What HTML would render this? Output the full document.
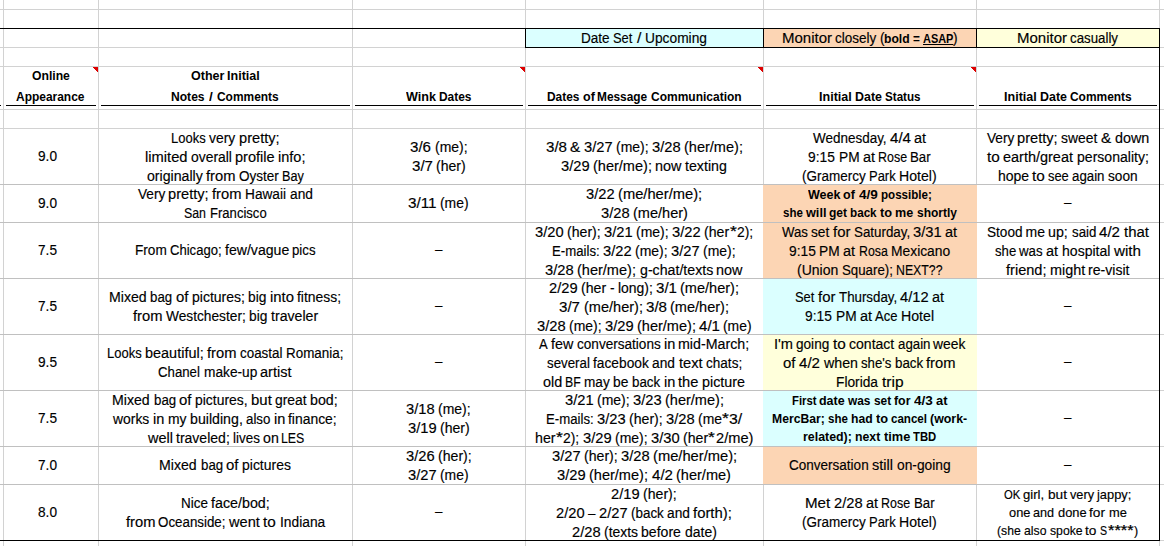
<!DOCTYPE html>
<html lang="en"><head><meta charset="utf-8"><title>Spreadsheet</title>
<style>
html,body{margin:0;padding:0;background:#fff}
body{width:1164px;height:546px;position:relative;overflow:hidden;font-family:"Liberation Sans",sans-serif;color:#000}
.g{position:absolute;background:#d2d2d2}
.k{position:absolute;background:#000}
.f{position:absolute}
.l{position:absolute;height:0;white-space:nowrap}
.l span{position:absolute;display:block;transform-origin:0 50%;white-space:pre}
.n{font-size:14.00px;height:19px;line-height:19px;-webkit-text-stroke:0.15px #000}
.b{font-size:12.00px;font-weight:700;height:18px;line-height:18px}
.s{font-size:12.10px;height:18px;line-height:18px;-webkit-text-stroke:0.15px #000}
.h{font-size:12.00px;font-weight:700;height:21px;line-height:21px}
.na{font-size:15.5px;height:19px;line-height:19px;-webkit-text-stroke:0.25px #000}
.sa{font-size:14.5px;height:18px;line-height:18px;-webkit-text-stroke:0.25px #000}
.tri{position:absolute;height:1px;background:#de0000}
</style></head><body>
<div class="g" style="left:0;top:9px;width:1164px;height:1px"></div>
<div class="g" style="left:0;top:47px;width:1164px;height:1px"></div>
<div class="g" style="left:0;top:66px;width:1164px;height:1px"></div>
<div class="g" style="left:0;top:109px;width:1164px;height:1px"></div>
<div class="g" style="left:0;top:128px;width:1164px;height:1px"></div>
<div class="g" style="left:0;top:184px;width:1164px;height:1px"></div>
<div class="g" style="left:0;top:222px;width:1164px;height:1px"></div>
<div class="g" style="left:0;top:278px;width:1164px;height:1px"></div>
<div class="g" style="left:0;top:334px;width:1164px;height:1px"></div>
<div class="g" style="left:0;top:390px;width:1164px;height:1px"></div>
<div class="g" style="left:0;top:446px;width:1164px;height:1px"></div>
<div class="g" style="left:0;top:484px;width:1164px;height:1px"></div>
<div class="g" style="left:0;top:540px;width:1164px;height:1px"></div>
<div class="g" style="left:3px;top:0;width:1px;height:546px"></div>
<div class="g" style="left:98px;top:0;width:1px;height:546px"></div>
<div class="g" style="left:352px;top:0;width:1px;height:546px"></div>
<div class="g" style="left:525px;top:0;width:1px;height:546px"></div>
<div class="g" style="left:763px;top:0;width:1px;height:546px"></div>
<div class="g" style="left:976px;top:0;width:1px;height:546px"></div>
<div class="g" style="left:1159px;top:0;width:1px;height:546px"></div>
<div class="g" style="left:0;top:184px;width:1159px;height:1px;background:#c0c0c0"></div>
<div class="g" style="left:0;top:222px;width:1159px;height:1px;background:#c0c0c0"></div>
<div class="g" style="left:0;top:278px;width:1159px;height:1px;background:#c0c0c0"></div>
<div class="g" style="left:0;top:334px;width:1159px;height:1px;background:#c0c0c0"></div>
<div class="g" style="left:0;top:390px;width:1159px;height:1px;background:#c0c0c0"></div>
<div class="g" style="left:0;top:446px;width:1159px;height:1px;background:#c0c0c0"></div>
<div class="g" style="left:0;top:484px;width:1159px;height:1px;background:#c0c0c0"></div>
<div class="f" style="left:763px;top:185px;width:214px;height:37px;background:#fcd5b4"></div>
<div class="f" style="left:763px;top:223px;width:214px;height:55px;background:#fcd5b4"></div>
<div class="f" style="left:763px;top:279px;width:214px;height:55px;background:#dbffff"></div>
<div class="f" style="left:763px;top:335px;width:214px;height:55px;background:#ffffdb"></div>
<div class="f" style="left:763px;top:391px;width:214px;height:55px;background:#dbffff"></div>
<div class="f" style="left:763px;top:447px;width:214px;height:37px;background:#fcd5b4"></div>
<div class="f" style="left:526px;top:29px;width:237px;height:18px;background:#dbffff"></div>
<div class="f" style="left:764px;top:29px;width:212px;height:18px;background:#fcd5b4"></div>
<div class="f" style="left:977px;top:29px;width:182px;height:18px;background:#ffffdb"></div>
<div class="k" style="left:0;top:28px;width:1160px;height:1px"></div>
<div class="k" style="left:0;top:540px;width:1160px;height:1px"></div>
<div class="k" style="left:1159px;top:28px;width:1px;height:513px"></div>
<div class="k" style="left:525px;top:47px;width:635px;height:1px"></div>
<div class="k" style="left:525px;top:28px;width:1px;height:20px"></div>
<div class="k" style="left:763px;top:28px;width:1px;height:20px"></div>
<div class="k" style="left:976px;top:28px;width:1px;height:20px"></div>
<div class="k" style="left:0;top:105px;width:1px;height:1px"></div>
<div class="k" style="left:6px;top:105px;width:90px;height:1px"></div>
<div class="k" style="left:101px;top:105px;width:249px;height:1px"></div>
<div class="k" style="left:355px;top:105px;width:168px;height:1px"></div>
<div class="k" style="left:528px;top:105px;width:233px;height:1px"></div>
<div class="k" style="left:766px;top:105px;width:208px;height:1px"></div>
<div class="k" style="left:979px;top:105px;width:178px;height:1px"></div>
<div class="tri" style="left:93px;top:67px;width:5px"></div>
<div class="tri" style="left:94px;top:68px;width:4px"></div>
<div class="tri" style="left:95px;top:69px;width:3px"></div>
<div class="tri" style="left:96px;top:70px;width:2px"></div>
<div class="tri" style="left:97px;top:71px;width:1px"></div>
<div class="tri" style="left:520px;top:67px;width:5px"></div>
<div class="tri" style="left:521px;top:68px;width:4px"></div>
<div class="tri" style="left:522px;top:69px;width:3px"></div>
<div class="tri" style="left:523px;top:70px;width:2px"></div>
<div class="tri" style="left:524px;top:71px;width:1px"></div>
<div class="tri" style="left:758px;top:67px;width:5px"></div>
<div class="tri" style="left:759px;top:68px;width:4px"></div>
<div class="tri" style="left:760px;top:69px;width:3px"></div>
<div class="tri" style="left:761px;top:70px;width:2px"></div>
<div class="tri" style="left:762px;top:71px;width:1px"></div>
<div class="tri" style="left:971px;top:67px;width:5px"></div>
<div class="tri" style="left:972px;top:68px;width:4px"></div>
<div class="tri" style="left:973px;top:69px;width:3px"></div>
<div class="tri" style="left:974px;top:70px;width:2px"></div>
<div class="tri" style="left:975px;top:71px;width:1px"></div>
<div class="l" style="left:38.30px;top:0"><span class="n" style="left:0.00px;top:146.6px;transform:scaleX(0.9759)">9.0</span></div>
<div class="l" style="left:171.07px;top:0"><span class="n" style="left:0.00px;top:128.6px;transform:scaleX(0.9285)">Looks </span><span class="n" style="left:38.08px;top:128.6px;transform:scaleX(0.9900)">very </span><span class="n" style="left:67.64px;top:128.6px;transform:scaleX(1.0442)">pretty;</span></div>
<div class="l" style="left:144.86px;top:0"><span class="n" style="left:0.00px;top:147.6px;transform:scaleX(1.0510)">limited </span><span class="n" style="left:45.92px;top:147.6px;transform:scaleX(0.9924)">overall </span><span class="n" style="left:90.23px;top:147.6px;transform:scaleX(1.0389)">profile </span><span class="n" style="left:133.25px;top:147.6px;transform:scaleX(1.0360)">info;</span></div>
<div class="l" style="left:146.62px;top:0"><span class="n" style="left:0.00px;top:166.6px;transform:scaleX(1.0105)">originally </span><span class="n" style="left:59.22px;top:166.6px;transform:scaleX(1.0525)">from </span><span class="n" style="left:92.08px;top:166.6px;transform:scaleX(0.9663)">Oyster </span><span class="n" style="left:135.30px;top:166.6px;transform:scaleX(0.9061)">Bay</span></div>
<div class="l" style="left:410.22px;top:0"><span class="n" style="left:0.00px;top:137.6px;transform:scaleX(1.0787)">3/6 </span><span class="n" style="left:24.39px;top:137.6px;transform:scaleX(0.9967)">(me);</span></div>
<div class="l" style="left:411.67px;top:0"><span class="n" style="left:0.00px;top:156.6px;transform:scaleX(1.0787)">3/7 </span><span class="n" style="left:24.39px;top:156.6px;transform:scaleX(1.0037)">(her)</span></div>
<div class="l" style="left:545.76px;top:0"><span class="n" style="left:0.00px;top:137.6px;transform:scaleX(1.0787)">3/8 </span><span class="n" style="left:24.39px;top:137.6px;transform:scaleX(1.0953)">&amp; </span><span class="n" style="left:38.02px;top:137.6px;transform:scaleX(1.0499)">3/27 </span><span class="n" style="left:70.02px;top:137.6px;transform:scaleX(0.9967)">(me); </span><span class="n" style="left:105.95px;top:137.6px;transform:scaleX(1.0499)">3/28 </span><span class="n" style="left:137.95px;top:137.6px;transform:scaleX(1.0377)">(her/me);</span></div>
<div class="l" style="left:561.15px;top:0"><span class="n" style="left:0.00px;top:156.6px;transform:scaleX(1.0499)">3/29 </span><span class="n" style="left:32.00px;top:156.6px;transform:scaleX(1.0377)">(her/me); </span><span class="n" style="left:94.31px;top:156.6px;transform:scaleX(1.0304)">now </span><span class="n" style="left:124.16px;top:156.6px;transform:scaleX(1.0170)">texting</span></div>
<div class="l" style="left:812.97px;top:0"><span class="n" style="left:0.00px;top:128.6px;transform:scaleX(0.9618)">Wednesday, </span><span class="n" style="left:77.00px;top:128.6px;transform:scaleX(1.0787)">4/4 </span><span class="n" style="left:101.39px;top:128.6px;transform:scaleX(1.0334)">at</span></div>
<div class="l" style="left:808.36px;top:0"><span class="n" style="left:0.00px;top:147.6px;transform:scaleX(0.9845)">9:15 </span><span class="n" style="left:30.22px;top:147.6px;transform:scaleX(0.9799)">PM </span><span class="n" style="left:54.19px;top:147.6px;transform:scaleX(1.0334)">at </span><span class="n" style="left:69.64px;top:147.6px;transform:scaleX(0.8896)">Rose </span><span class="n" style="left:102.11px;top:147.6px;transform:scaleX(0.9441)">Bar</span></div>
<div class="l" style="left:802.33px;top:0"><span class="n" style="left:0.00px;top:166.6px;transform:scaleX(0.9636)">(Gramercy </span><span class="n" style="left:67.11px;top:166.6px;transform:scaleX(0.9262)">Park </span><span class="n" style="left:97.16px;top:166.6px;transform:scaleX(1.0059)">Hotel)</span></div>
<div class="l" style="left:986.54px;top:0"><span class="n" style="left:0.00px;top:128.6px;transform:scaleX(0.9755)">Very </span><span class="n" style="left:30.72px;top:128.6px;transform:scaleX(1.0442)">pretty; </span><span class="n" style="left:74.72px;top:128.6px;transform:scaleX(0.9915)">sweet </span><span class="n" style="left:114.38px;top:128.6px;transform:scaleX(1.0953)">&amp; </span><span class="n" style="left:127.98px;top:128.6px;transform:scaleX(1.0261)">down</span></div>
<div class="l" style="left:987.00px;top:0"><span class="n" style="left:0.00px;top:147.6px;transform:scaleX(1.0949)">to </span><span class="n" style="left:16.19px;top:147.6px;transform:scaleX(1.0330)">earth/great </span><span class="n" style="left:89.53px;top:147.6px;transform:scaleX(1.0039)">personality;</span></div>
<div class="l" style="left:997.54px;top:0"><span class="n" style="left:0.00px;top:166.6px;transform:scaleX(0.9995)">hope </span><span class="n" style="left:34.53px;top:166.6px;transform:scaleX(1.0949)">to </span><span class="n" style="left:50.72px;top:166.6px;transform:scaleX(0.9211)">see </span><span class="n" style="left:74.89px;top:166.6px;transform:scaleX(0.9480)">again </span><span class="n" style="left:110.77px;top:166.6px;transform:scaleX(0.9743)">soon</span></div>
<div class="l" style="left:38.30px;top:0"><span class="n" style="left:0.00px;top:193.6px;transform:scaleX(0.9759)">9.0</span></div>
<div class="l" style="left:137.72px;top:0"><span class="n" style="left:0.00px;top:184.6px;transform:scaleX(0.9755)">Very </span><span class="n" style="left:30.72px;top:184.6px;transform:scaleX(1.0442)">pretty; </span><span class="n" style="left:74.72px;top:184.6px;transform:scaleX(1.0525)">from </span><span class="n" style="left:107.58px;top:184.6px;transform:scaleX(0.9773)">Hawaii </span><span class="n" style="left:152.02px;top:184.6px;transform:scaleX(0.9826)">and</span></div>
<div class="l" style="left:184.19px;top:0"><span class="n" style="left:0.00px;top:203.6px;transform:scaleX(0.8815)">San </span><span class="n" style="left:25.36px;top:203.6px;transform:scaleX(0.9338)">Francisco</span></div>
<div class="l" style="left:408.43px;top:0"><span class="n" style="left:0.00px;top:193.6px;transform:scaleX(1.0912)">3/11 </span><span class="n" style="left:32.00px;top:193.6px;transform:scaleX(0.9919)">(me)</span></div>
<div class="l" style="left:586.12px;top:0"><span class="n" style="left:0.00px;top:184.6px;transform:scaleX(1.0499)">3/22 </span><span class="n" style="left:32.00px;top:184.6px;transform:scaleX(1.0505)">(me/her/me);</span></div>
<div class="l" style="left:600.75px;top:0"><span class="n" style="left:0.00px;top:203.6px;transform:scaleX(1.0499)">3/28 </span><span class="n" style="left:32.00px;top:203.6px;transform:scaleX(1.0381)">(me/her)</span></div>
<div class="l" style="left:807.53px;top:0"><span class="b" style="left:0.00px;top:186.0px;transform:scaleX(1.0447)">Week </span><span class="b" style="left:35.66px;top:186.0px;transform:scaleX(1.0414)">of </span><span class="b" style="left:51.08px;top:186.0px;transform:scaleX(1.1300)">4/9 </span><span class="b" style="left:73.59px;top:186.0px;transform:scaleX(0.9635)">possible;</span></div>
<div class="l" style="left:782.79px;top:0"><span class="b" style="left:0.00px;top:204.0px;transform:scaleX(0.9600)">she </span><span class="b" style="left:22.98px;top:204.0px;transform:scaleX(1.0574)">will </span><span class="b" style="left:46.55px;top:204.0px;transform:scaleX(1.0017)">get </span><span class="b" style="left:67.69px;top:204.0px;transform:scaleX(0.9732)">back </span><span class="b" style="left:97.42px;top:204.0px;transform:scaleX(1.0662)">to </span><span class="b" style="left:112.61px;top:204.0px;transform:scaleX(1.0477)">me </span><span class="b" style="left:133.89px;top:204.0px;transform:scaleX(0.9980)">shortly</span></div>
<div class="l" style="left:1063.96px;top:0"><span class="n" style="left:0.00px;top:192.6px;transform:scaleX(0.9599)">–</span></div>
<div class="l" style="left:38.30px;top:0"><span class="n" style="left:0.00px;top:240.6px;transform:scaleX(0.9759)">7.5</span></div>
<div class="l" style="left:134.53px;top:0"><span class="n" style="left:0.00px;top:240.6px;transform:scaleX(0.9727)">From </span><span class="n" style="left:35.17px;top:240.6px;transform:scaleX(0.9338)">Chicago; </span><span class="n" style="left:90.17px;top:240.6px;transform:scaleX(1.0069)">few/vague </span><span class="n" style="left:157.81px;top:240.6px;transform:scaleX(0.9454)">pics</span></div>
<div class="l" style="left:434.96px;top:0"><span class="n" style="left:0.00px;top:239.6px;transform:scaleX(0.9599)">–</span></div>
<div class="l" style="left:535.32px;top:0"><span class="n" style="left:0.00px;top:222.6px;transform:scaleX(1.0499)">3/20 </span><span class="n" style="left:32.00px;top:222.6px;transform:scaleX(1.0070)">(her); </span><span class="n" style="left:69.08px;top:222.6px;transform:scaleX(1.0499)">3/21 </span><span class="n" style="left:101.06px;top:222.6px;transform:scaleX(0.9967)">(me); </span><span class="n" style="left:137.02px;top:222.6px;transform:scaleX(1.0499)">3/22 </span><span class="n" style="left:169.00px;top:222.6px;transform:scaleX(1.0088)">(her</span><span class="na" style="left:194.45px;top:221.0px;transform:scaleX(1.1300)">*</span><span class="n" style="left:201.59px;top:222.6px;transform:scaleX(0.9895)">2);</span></div>
<div class="l" style="left:552.43px;top:0"><span class="n" style="left:0.00px;top:241.6px;transform:scaleX(0.9425)">E-mails: </span><span class="n" style="left:51.05px;top:241.6px;transform:scaleX(1.0499)">3/22 </span><span class="n" style="left:83.05px;top:241.6px;transform:scaleX(0.9967)">(me); </span><span class="n" style="left:118.98px;top:241.6px;transform:scaleX(1.0499)">3/27 </span><span class="n" style="left:150.98px;top:241.6px;transform:scaleX(0.9967)">(me);</span></div>
<div class="l" style="left:545.48px;top:0"><span class="n" style="left:0.00px;top:260.6px;transform:scaleX(1.0499)">3/28 </span><span class="n" style="left:32.00px;top:260.6px;transform:scaleX(1.0377)">(her/me); </span><span class="n" style="left:94.31px;top:260.6px;transform:scaleX(1.0125)">g-chat/texts </span><span class="n" style="left:170.98px;top:260.6px;transform:scaleX(1.0304)">now</span></div>
<div class="l" style="left:782.04px;top:0"><span class="n" style="left:0.00px;top:222.6px;transform:scaleX(0.9420)">Was </span><span class="n" style="left:29.28px;top:222.6px;transform:scaleX(0.9783)">set </span><span class="n" style="left:50.94px;top:222.6px;transform:scaleX(1.0650)">for </span><span class="n" style="left:71.73px;top:222.6px;transform:scaleX(0.9530)">Saturday, </span><span class="n" style="left:131.25px;top:222.6px;transform:scaleX(1.0499)">3/31 </span><span class="n" style="left:163.23px;top:222.6px;transform:scaleX(1.0334)">at</span></div>
<div class="l" style="left:789.18px;top:0"><span class="n" style="left:0.00px;top:241.6px;transform:scaleX(0.9845)">9:15 </span><span class="n" style="left:30.22px;top:241.6px;transform:scaleX(0.9799)">PM </span><span class="n" style="left:54.19px;top:241.6px;transform:scaleX(1.0334)">at </span><span class="n" style="left:69.64px;top:241.6px;transform:scaleX(0.8815)">Rosa </span><span class="n" style="left:101.84px;top:241.6px;transform:scaleX(0.9880)">Mexicano</span></div>
<div class="l" style="left:797.22px;top:0"><span class="n" style="left:0.00px;top:260.6px;transform:scaleX(1.0011)">(Union </span><span class="n" style="left:44.69px;top:260.6px;transform:scaleX(0.9479)">Square); </span><span class="n" style="left:98.69px;top:260.6px;transform:scaleX(0.8800)">NEXT??</span></div>
<div class="l" style="left:986.70px;top:0"><span class="n" style="left:0.00px;top:222.6px;transform:scaleX(0.9697)">Stood </span><span class="n" style="left:38.88px;top:222.6px;transform:scaleX(1.0000)">me </span><span class="n" style="left:61.70px;top:222.6px;transform:scaleX(1.0161)">up; </span><span class="n" style="left:84.88px;top:222.6px;transform:scaleX(0.9489)">said </span><span class="n" style="left:112.64px;top:222.6px;transform:scaleX(1.0787)">4/2 </span><span class="n" style="left:137.03px;top:222.6px;transform:scaleX(1.0696)">that</span></div>
<div class="l" style="left:994.71px;top:0"><span class="n" style="left:0.00px;top:241.6px;transform:scaleX(0.9398)">she </span><span class="n" style="left:24.61px;top:241.6px;transform:scaleX(0.9479)">was </span><span class="n" style="left:51.61px;top:241.6px;transform:scaleX(1.0334)">at </span><span class="n" style="left:67.06px;top:241.6px;transform:scaleX(1.0039)">hospital </span><span class="n" style="left:118.91px;top:241.6px;transform:scaleX(1.0872)">with</span></div>
<div class="l" style="left:1005.68px;top:0"><span class="n" style="left:0.00px;top:260.6px;transform:scaleX(1.0405)">friend; </span><span class="n" style="left:43.89px;top:260.6px;transform:scaleX(1.0301)">might </span><span class="n" style="left:82.53px;top:260.6px;transform:scaleX(1.0068)">re-visit</span></div>
<div class="l" style="left:38.30px;top:0"><span class="n" style="left:0.00px;top:296.6px;transform:scaleX(0.9759)">7.5</span></div>
<div class="l" style="left:109.18px;top:0"><span class="n" style="left:-0.00px;top:287.6px;transform:scaleX(1.0096)">Mixed </span><span class="n" style="left:41.11px;top:287.6px;transform:scaleX(0.9478)">bag </span><span class="n" style="left:66.62px;top:287.6px;transform:scaleX(1.0695)">of </span><span class="n" style="left:82.50px;top:287.6px;transform:scaleX(1.0006)">pictures; </span><span class="n" style="left:138.84px;top:287.6px;transform:scaleX(0.9841)">big </span><span class="n" style="left:160.62px;top:287.6px;transform:scaleX(1.0623)">into </span><span class="n" style="left:187.98px;top:287.6px;transform:scaleX(0.9933)">fitness;</span></div>
<div class="l" style="left:132.75px;top:0"><span class="n" style="left:0.00px;top:306.6px;transform:scaleX(1.0525)">from </span><span class="n" style="left:32.86px;top:306.6px;transform:scaleX(0.9795)">Westchester; </span><span class="n" style="left:116.00px;top:306.6px;transform:scaleX(0.9841)">big </span><span class="n" style="left:137.78px;top:306.6px;transform:scaleX(1.0090)">traveler</span></div>
<div class="l" style="left:434.96px;top:0"><span class="n" style="left:0.00px;top:295.6px;transform:scaleX(0.9599)">–</span></div>
<div class="l" style="left:549.17px;top:0"><span class="n" style="left:0.00px;top:278.6px;transform:scaleX(1.0499)">2/29 </span><span class="n" style="left:32.00px;top:278.6px;transform:scaleX(1.0088)">(her </span><span class="n" style="left:60.52px;top:278.6px;transform:scaleX(0.9833)">- </span><span class="n" style="left:68.50px;top:278.6px;transform:scaleX(0.9951)">long); </span><span class="n" style="left:106.75px;top:278.6px;transform:scaleX(1.0787)">3/1 </span><span class="n" style="left:131.14px;top:278.6px;transform:scaleX(1.0377)">(me/her);</span></div>
<div class="l" style="left:559.18px;top:0"><span class="n" style="left:0.00px;top:297.6px;transform:scaleX(1.0787)">3/7 </span><span class="n" style="left:24.39px;top:297.6px;transform:scaleX(1.0377)">(me/her); </span><span class="n" style="left:86.72px;top:297.6px;transform:scaleX(1.0787)">3/8 </span><span class="n" style="left:111.09px;top:297.6px;transform:scaleX(1.0377)">(me/her);</span></div>
<div class="l" style="left:536.61px;top:0"><span class="n" style="left:0.00px;top:316.6px;transform:scaleX(1.0499)">3/28 </span><span class="n" style="left:32.00px;top:316.6px;transform:scaleX(0.9967)">(me); </span><span class="n" style="left:67.95px;top:316.6px;transform:scaleX(1.0499)">3/29 </span><span class="n" style="left:99.94px;top:316.6px;transform:scaleX(1.0377)">(her/me); </span><span class="n" style="left:162.25px;top:316.6px;transform:scaleX(1.0787)">4/1 </span><span class="n" style="left:186.64px;top:316.6px;transform:scaleX(0.9919)">(me)</span></div>
<div class="l" style="left:795.15px;top:0"><span class="n" style="left:0.00px;top:287.6px;transform:scaleX(0.9190)">Set </span><span class="n" style="left:22.70px;top:287.6px;transform:scaleX(1.0650)">for </span><span class="n" style="left:43.48px;top:287.6px;transform:scaleX(0.9502)">Thursday, </span><span class="n" style="left:105.05px;top:287.6px;transform:scaleX(1.0499)">4/12 </span><span class="n" style="left:137.03px;top:287.6px;transform:scaleX(1.0334)">at</span></div>
<div class="l" style="left:805.43px;top:0"><span class="n" style="left:0.00px;top:306.6px;transform:scaleX(0.9845)">9:15 </span><span class="n" style="left:30.22px;top:306.6px;transform:scaleX(0.9799)">PM </span><span class="n" style="left:54.19px;top:306.6px;transform:scaleX(1.0334)">at </span><span class="n" style="left:69.64px;top:306.6px;transform:scaleX(0.9326)">Ace </span><span class="n" style="left:95.52px;top:306.6px;transform:scaleX(1.0105)">Hotel</span></div>
<div class="l" style="left:1063.96px;top:0"><span class="n" style="left:0.00px;top:295.6px;transform:scaleX(0.9599)">–</span></div>
<div class="l" style="left:38.30px;top:0"><span class="n" style="left:0.00px;top:352.6px;transform:scaleX(0.9759)">9.5</span></div>
<div class="l" style="left:107.05px;top:0"><span class="n" style="left:0.00px;top:343.6px;transform:scaleX(0.9285)">Looks </span><span class="n" style="left:38.08px;top:343.6px;transform:scaleX(1.0327)">beautiful; </span><span class="n" style="left:100.14px;top:343.6px;transform:scaleX(1.0525)">from </span><span class="n" style="left:133.00px;top:343.6px;transform:scaleX(0.9577)">coastal </span><span class="n" style="left:178.86px;top:343.6px;transform:scaleX(0.9585)">Romania;</span></div>
<div class="l" style="left:158.47px;top:0"><span class="n" style="left:0.00px;top:362.6px;transform:scaleX(0.9433)">Chanel </span><span class="n" style="left:45.25px;top:362.6px;transform:scaleX(0.9791)">make-up </span><span class="n" style="left:101.95px;top:362.6px;transform:scaleX(1.0381)">artist</span></div>
<div class="l" style="left:434.96px;top:0"><span class="n" style="left:0.00px;top:351.6px;transform:scaleX(0.9599)">–</span></div>
<div class="l" style="left:538.80px;top:0"><span class="n" style="left:0.00px;top:334.6px;transform:scaleX(0.9298)">A </span><span class="n" style="left:12.08px;top:334.6px;transform:scaleX(1.0244)">few </span><span class="n" style="left:37.78px;top:334.6px;transform:scaleX(0.9696)">conversations </span><span class="n" style="left:124.92px;top:334.6px;transform:scaleX(1.0387)">in </span><span class="n" style="left:139.64px;top:334.6px;transform:scaleX(1.0163)">mid-March;</span></div>
<div class="l" style="left:546.68px;top:0"><span class="n" style="left:0.00px;top:353.6px;transform:scaleX(0.9505)">several </span><span class="n" style="left:46.30px;top:353.6px;transform:scaleX(0.9819)">facebook </span><span class="n" style="left:105.48px;top:353.6px;transform:scaleX(0.9826)">and </span><span class="n" style="left:131.83px;top:353.6px;transform:scaleX(1.0484)">text </span><span class="n" style="left:158.88px;top:353.6px;transform:scaleX(0.9686)">chats;</span></div>
<div class="l" style="left:543.18px;top:0"><span class="n" style="left:0.00px;top:372.6px;transform:scaleX(1.0293)">old </span><span class="n" style="left:22.28px;top:372.6px;transform:scaleX(0.8800)">BF </span><span class="n" style="left:41.08px;top:372.6px;transform:scaleX(0.9711)">may </span><span class="n" style="left:70.14px;top:372.6px;transform:scaleX(0.9860)">be </span><span class="n" style="left:88.88px;top:372.6px;transform:scaleX(0.9546)">back </span><span class="n" style="left:120.50px;top:372.6px;transform:scaleX(1.0387)">in </span><span class="n" style="left:135.22px;top:372.6px;transform:scaleX(1.0465)">the </span><span class="n" style="left:158.97px;top:372.6px;transform:scaleX(1.0249)">picture</span></div>
<div class="l" style="left:773.62px;top:0"><span class="n" style="left:0.00px;top:334.6px;transform:scaleX(1.0463)">I&#x27;m </span><span class="n" style="left:22.47px;top:334.6px;transform:scaleX(0.9708)">going </span><span class="n" style="left:59.11px;top:334.6px;transform:scaleX(1.0949)">to </span><span class="n" style="left:75.30px;top:334.6px;transform:scaleX(1.0028)">contact </span><span class="n" style="left:123.95px;top:334.6px;transform:scaleX(0.9480)">again </span><span class="n" style="left:159.81px;top:334.6px;transform:scaleX(0.9895)">week</span></div>
<div class="l" style="left:783.47px;top:0"><span class="n" style="left:0.00px;top:353.6px;transform:scaleX(1.0695)">of </span><span class="n" style="left:15.89px;top:353.6px;transform:scaleX(1.0787)">4/2 </span><span class="n" style="left:40.28px;top:353.6px;transform:scaleX(1.0145)">when </span><span class="n" style="left:77.61px;top:353.6px;transform:scaleX(0.9423)">she&#x27;s </span><span class="n" style="left:111.39px;top:353.6px;transform:scaleX(0.9546)">back </span><span class="n" style="left:143.02px;top:353.6px;transform:scaleX(1.0525)">from</span></div>
<div class="l" style="left:836.22px;top:0"><span class="n" style="left:0.00px;top:372.6px;transform:scaleX(0.9810)">Florida </span><span class="n" style="left:45.38px;top:372.6px;transform:scaleX(1.1092)">trip</span></div>
<div class="l" style="left:1063.96px;top:0"><span class="n" style="left:0.00px;top:351.6px;transform:scaleX(0.9599)">–</span></div>
<div class="l" style="left:38.30px;top:0"><span class="n" style="left:0.00px;top:408.6px;transform:scaleX(0.9759)">7.5</span></div>
<div class="l" style="left:112.47px;top:0"><span class="n" style="left:-0.00px;top:390.6px;transform:scaleX(1.0096)">Mixed </span><span class="n" style="left:41.11px;top:390.6px;transform:scaleX(0.9478)">bag </span><span class="n" style="left:66.62px;top:390.6px;transform:scaleX(1.0695)">of </span><span class="n" style="left:82.50px;top:390.6px;transform:scaleX(0.9956)">pictures, </span><span class="n" style="left:138.58px;top:390.6px;transform:scaleX(1.0682)">but </span><span class="n" style="left:162.75px;top:390.6px;transform:scaleX(0.9912)">great </span><span class="n" style="left:197.77px;top:390.6px;transform:scaleX(1.0161)">bod;</span></div>
<div class="l" style="left:113.35px;top:0"><span class="n" style="left:0.00px;top:409.6px;transform:scaleX(0.9923)">works </span><span class="n" style="left:39.67px;top:409.6px;transform:scaleX(1.0387)">in </span><span class="n" style="left:54.38px;top:409.6px;transform:scaleX(0.9908)">my </span><span class="n" style="left:76.27px;top:409.6px;transform:scaleX(1.0129)">building, </span><span class="n" style="left:132.48px;top:409.6px;transform:scaleX(0.9501)">also </span><span class="n" style="left:160.28px;top:409.6px;transform:scaleX(1.0387)">in </span><span class="n" style="left:174.98px;top:409.6px;transform:scaleX(0.9933)">finance;</span></div>
<div class="l" style="left:147.55px;top:0"><span class="n" style="left:0.00px;top:428.6px;transform:scaleX(1.0343)">well </span><span class="n" style="left:28.34px;top:428.6px;transform:scaleX(1.0015)">traveled; </span><span class="n" style="left:85.50px;top:428.6px;transform:scaleX(0.9582)">lives </span><span class="n" style="left:115.73px;top:428.6px;transform:scaleX(1.0140)">on </span><span class="n" style="left:133.47px;top:428.6px;transform:scaleX(0.8800)">LES</span></div>
<div class="l" style="left:406.42px;top:0"><span class="n" style="left:0.00px;top:399.6px;transform:scaleX(1.0499)">3/18 </span><span class="n" style="left:32.00px;top:399.6px;transform:scaleX(0.9967)">(me);</span></div>
<div class="l" style="left:407.86px;top:0"><span class="n" style="left:0.00px;top:418.6px;transform:scaleX(1.0499)">3/19 </span><span class="n" style="left:32.00px;top:418.6px;transform:scaleX(1.0037)">(her)</span></div>
<div class="l" style="left:564.77px;top:0"><span class="n" style="left:0.00px;top:390.6px;transform:scaleX(1.0499)">3/21 </span><span class="n" style="left:32.00px;top:390.6px;transform:scaleX(0.9967)">(me); </span><span class="n" style="left:67.95px;top:390.6px;transform:scaleX(1.0499)">3/23 </span><span class="n" style="left:99.94px;top:390.6px;transform:scaleX(1.0377)">(her/me);</span></div>
<div class="l" style="left:545.72px;top:0"><span class="n" style="left:0.00px;top:409.6px;transform:scaleX(0.9425)">E-mails: </span><span class="n" style="left:51.05px;top:409.6px;transform:scaleX(1.0499)">3/23 </span><span class="n" style="left:83.05px;top:409.6px;transform:scaleX(1.0070)">(her); </span><span class="n" style="left:120.12px;top:409.6px;transform:scaleX(1.0499)">3/28 </span><span class="n" style="left:152.11px;top:409.6px;transform:scaleX(0.9948)">(me</span><span class="na" style="left:176.44px;top:408.0px;transform:scaleX(1.1300)">*</span><span class="n" style="left:183.68px;top:409.6px;transform:scaleX(1.1300)">3/</span></div>
<div class="l" style="left:535.44px;top:0"><span class="n" style="left:0.00px;top:428.6px;transform:scaleX(1.0170)">her</span><span class="na" style="left:20.90px;top:427.0px;transform:scaleX(1.1300)">*</span><span class="n" style="left:28.05px;top:428.6px;transform:scaleX(0.9895)">2); </span><span class="n" style="left:47.61px;top:428.6px;transform:scaleX(1.0499)">3/29 </span><span class="n" style="left:79.59px;top:428.6px;transform:scaleX(0.9967)">(me); </span><span class="n" style="left:115.55px;top:428.6px;transform:scaleX(1.0499)">3/30 </span><span class="n" style="left:147.55px;top:428.6px;transform:scaleX(1.0088)">(her</span><span class="na" style="left:172.98px;top:427.0px;transform:scaleX(1.1300)">*</span><span class="n" style="left:180.12px;top:428.6px;transform:scaleX(1.0445)">2/me)</span></div>
<div class="l" style="left:791.50px;top:0"><span class="b" style="left:0.00px;top:392.0px;transform:scaleX(0.9453)">First </span><span class="b" style="left:27.72px;top:392.0px;transform:scaleX(1.0392)">date </span><span class="b" style="left:56.48px;top:392.0px;transform:scaleX(0.9897)">was </span><span class="b" style="left:82.05px;top:392.0px;transform:scaleX(0.9883)">set </span><span class="b" style="left:102.31px;top:392.0px;transform:scaleX(1.0303)">for </span><span class="b" style="left:122.44px;top:392.0px;transform:scaleX(1.1300)">4/3 </span><span class="b" style="left:144.94px;top:392.0px;transform:scaleX(1.0747)">at</span></div>
<div class="l" style="left:772.17px;top:0"><span class="b" style="left:0.00px;top:410.0px;transform:scaleX(1.0138)">MercBar; </span><span class="b" style="left:55.88px;top:410.0px;transform:scaleX(0.9600)">she </span><span class="b" style="left:78.84px;top:410.0px;transform:scaleX(1.0132)">had </span><span class="b" style="left:103.58px;top:410.0px;transform:scaleX(1.0662)">to </span><span class="b" style="left:118.77px;top:410.0px;transform:scaleX(0.9640)">cancel </span><span class="b" style="left:157.89px;top:410.0px;transform:scaleX(1.0326)">(work-</span></div>
<div class="l" style="left:803.22px;top:0"><span class="b" style="left:0.00px;top:428.0px;transform:scaleX(1.0317)">related); </span><span class="b" style="left:51.97px;top:428.0px;transform:scaleX(1.0234)">next </span><span class="b" style="left:80.34px;top:428.0px;transform:scaleX(1.0633)">time </span><span class="b" style="left:109.70px;top:428.0px;transform:scaleX(0.9430)">TBD</span></div>
<div class="l" style="left:1063.96px;top:0"><span class="n" style="left:0.00px;top:407.6px;transform:scaleX(0.9599)">–</span></div>
<div class="l" style="left:38.30px;top:0"><span class="n" style="left:0.00px;top:455.6px;transform:scaleX(0.9759)">7.0</span></div>
<div class="l" style="left:159.48px;top:0"><span class="n" style="left:-0.00px;top:455.6px;transform:scaleX(1.0096)">Mixed </span><span class="n" style="left:41.11px;top:455.6px;transform:scaleX(0.9478)">bag </span><span class="n" style="left:66.62px;top:455.6px;transform:scaleX(1.0695)">of </span><span class="n" style="left:82.50px;top:455.6px;transform:scaleX(0.9981)">pictures</span></div>
<div class="l" style="left:405.86px;top:0"><span class="n" style="left:0.00px;top:446.6px;transform:scaleX(1.0499)">3/26 </span><span class="n" style="left:32.00px;top:446.6px;transform:scaleX(1.0070)">(her);</span></div>
<div class="l" style="left:408.43px;top:0"><span class="n" style="left:0.00px;top:465.6px;transform:scaleX(1.0499)">3/27 </span><span class="n" style="left:32.00px;top:465.6px;transform:scaleX(0.9919)">(me)</span></div>
<div class="l" style="left:551.58px;top:0"><span class="n" style="left:0.00px;top:446.6px;transform:scaleX(1.0499)">3/27 </span><span class="n" style="left:32.00px;top:446.6px;transform:scaleX(1.0070)">(her); </span><span class="n" style="left:69.08px;top:446.6px;transform:scaleX(1.0499)">3/28 </span><span class="n" style="left:101.06px;top:446.6px;transform:scaleX(1.0505)">(me/her/me);</span></div>
<div class="l" style="left:557.40px;top:0"><span class="n" style="left:0.00px;top:465.6px;transform:scaleX(1.0499)">3/29 </span><span class="n" style="left:32.00px;top:465.6px;transform:scaleX(1.0377)">(her/me); </span><span class="n" style="left:94.31px;top:465.6px;transform:scaleX(1.0787)">4/2 </span><span class="n" style="left:118.70px;top:465.6px;transform:scaleX(1.0381)">(her/me)</span></div>
<div class="l" style="left:789.18px;top:0"><span class="n" style="left:0.00px;top:455.6px;transform:scaleX(0.9657)">Conversation </span><span class="n" style="left:83.06px;top:455.6px;transform:scaleX(1.0355)">still </span><span class="n" style="left:107.39px;top:455.6px;transform:scaleX(0.9842)">on-going</span></div>
<div class="l" style="left:1063.96px;top:0"><span class="n" style="left:0.00px;top:454.6px;transform:scaleX(0.9599)">–</span></div>
<div class="l" style="left:38.30px;top:0"><span class="n" style="left:0.00px;top:502.6px;transform:scaleX(0.9759)">8.0</span></div>
<div class="l" style="left:180.66px;top:0"><span class="n" style="left:0.00px;top:493.6px;transform:scaleX(0.9615)">Nice </span><span class="n" style="left:30.33px;top:493.6px;transform:scaleX(1.0201)">face/bod;</span></div>
<div class="l" style="left:125.53px;top:0"><span class="n" style="left:0.00px;top:512.6px;transform:scaleX(1.0525)">from </span><span class="n" style="left:32.86px;top:512.6px;transform:scaleX(0.9528)">Oceanside; </span><span class="n" style="left:103.72px;top:512.6px;transform:scaleX(1.0423)">went </span><span class="n" style="left:137.94px;top:512.6px;transform:scaleX(1.0949)">to </span><span class="n" style="left:154.11px;top:512.6px;transform:scaleX(0.9847)">Indiana</span></div>
<div class="l" style="left:434.96px;top:0"><span class="n" style="left:0.00px;top:501.6px;transform:scaleX(0.9599)">–</span></div>
<div class="l" style="left:611.36px;top:0"><span class="n" style="left:0.00px;top:484.6px;transform:scaleX(1.0499)">2/19 </span><span class="n" style="left:32.00px;top:484.6px;transform:scaleX(1.0070)">(her);</span></div>
<div class="l" style="left:556.08px;top:0"><span class="n" style="left:0.00px;top:503.6px;transform:scaleX(1.0499)">2/20 </span><span class="n" style="left:32.00px;top:503.6px;transform:scaleX(0.9599)">– </span><span class="n" style="left:42.86px;top:503.6px;transform:scaleX(1.0499)">2/27 </span><span class="n" style="left:74.86px;top:503.6px;transform:scaleX(0.9576)">(back </span><span class="n" style="left:111.02px;top:503.6px;transform:scaleX(0.9826)">and </span><span class="n" style="left:137.36px;top:503.6px;transform:scaleX(1.0628)">forth);</span></div>
<div class="l" style="left:571.93px;top:0"><span class="n" style="left:0.00px;top:522.6px;transform:scaleX(1.0499)">2/28 </span><span class="n" style="left:32.00px;top:522.6px;transform:scaleX(0.9959)">(texts </span><span class="n" style="left:69.47px;top:522.6px;transform:scaleX(1.0047)">before </span><span class="n" style="left:112.73px;top:522.6px;transform:scaleX(0.9966)">date)</span></div>
<div class="l" style="left:805.14px;top:0"><span class="n" style="left:0.00px;top:493.6px;transform:scaleX(1.0810)">Met </span><span class="n" style="left:28.62px;top:493.6px;transform:scaleX(1.0499)">2/28 </span><span class="n" style="left:60.62px;top:493.6px;transform:scaleX(1.0334)">at </span><span class="n" style="left:76.08px;top:493.6px;transform:scaleX(0.8896)">Rose </span><span class="n" style="left:108.55px;top:493.6px;transform:scaleX(0.9441)">Bar</span></div>
<div class="l" style="left:802.33px;top:0"><span class="n" style="left:0.00px;top:512.6px;transform:scaleX(0.9636)">(Gramercy </span><span class="n" style="left:67.11px;top:512.6px;transform:scaleX(0.9262)">Park </span><span class="n" style="left:97.16px;top:512.6px;transform:scaleX(1.0059)">Hotel)</span></div>
<div class="l" style="left:1004.03px;top:0"><span class="s" style="left:0.00px;top:486.0px;transform:scaleX(0.9330)">OK </span><span class="s" style="left:19.44px;top:486.0px;transform:scaleX(1.0817)">girl, </span><span class="s" style="left:43.69px;top:486.0px;transform:scaleX(1.1300)">but </span><span class="s" style="left:65.86px;top:486.0px;transform:scaleX(1.0540)">very </span><span class="s" style="left:93.06px;top:486.0px;transform:scaleX(1.0620)">jappy;</span></div>
<div class="l" style="left:1008.94px;top:0"><span class="s" style="left:0.00px;top:504.0px;transform:scaleX(1.0596)">one </span><span class="s" style="left:24.52px;top:504.0px;transform:scaleX(1.0457)">and </span><span class="s" style="left:48.73px;top:504.0px;transform:scaleX(1.0645)">done </span><span class="s" style="left:80.53px;top:504.0px;transform:scaleX(1.1300)">for </span><span class="s" style="left:99.62px;top:504.0px;transform:scaleX(1.0641)">me</span></div>
<div class="l" style="left:997.19px;top:0"><span class="s" style="left:0.00px;top:522.0px;transform:scaleX(1.0073)">(she </span><span class="s" style="left:26.81px;top:522.0px;transform:scaleX(1.0120)">also </span><span class="s" style="left:52.39px;top:522.0px;transform:scaleX(1.0106)">spoke </span><span class="s" style="left:88.30px;top:522.0px;transform:scaleX(1.1300)">to </span><span class="s" style="left:102.62px;top:522.0px;transform:scaleX(0.8800)">S</span><span class="sa" style="left:110.34px;top:520.7px;transform:scaleX(1.1300)">****</span><span class="s" style="left:136.83px;top:522.0px;transform:scaleX(1.0388)">)</span></div>
<div class="l" style="left:31.76px;top:0"><span class="h" style="left:0.00px;top:66.0px;transform:scaleX(1.0142)">Online</span></div>
<div class="l" style="left:16.47px;top:0"><span class="h" style="left:0.00px;top:87.0px;transform:scaleX(0.9966)">Appearance</span></div>
<div class="l" style="left:190.58px;top:0"><span class="h" style="left:0.00px;top:66.0px;transform:scaleX(1.0425)">Other </span><span class="h" style="left:36.50px;top:66.0px;transform:scaleX(1.0449)">Initial</span></div>
<div class="l" style="left:171.49px;top:0"><span class="h" style="left:0.00px;top:87.0px;transform:scaleX(1.0070)">Notes </span><span class="h" style="left:37.78px;top:87.0px;transform:scaleX(1.1300)">/ </span><span class="h" style="left:45.75px;top:87.0px;transform:scaleX(0.9947)">Comments</span></div>
<div class="l" style="left:405.96px;top:0"><span class="h" style="left:0.00px;top:87.0px;transform:scaleX(1.0476)">Wink </span><span class="h" style="left:33.05px;top:87.0px;transform:scaleX(0.9928)">Dates</span></div>
<div class="l" style="left:547.00px;top:0"><span class="h" style="left:0.00px;top:87.0px;transform:scaleX(0.9928)">Dates </span><span class="h" style="left:35.58px;top:87.0px;transform:scaleX(1.0414)">of </span><span class="h" style="left:50.47px;top:87.0px;transform:scaleX(0.9895)">Message </span><span class="h" style="left:103.75px;top:87.0px;transform:scaleX(0.9997)">Communication</span></div>
<div class="l" style="left:818.96px;top:0"><span class="h" style="left:0.00px;top:87.0px;transform:scaleX(1.0449)">Initial </span><span class="h" style="left:35.88px;top:87.0px;transform:scaleX(1.0360)">Date </span><span class="h" style="left:65.94px;top:87.0px;transform:scaleX(0.9689)">Status</span></div>
<div class="l" style="left:1003.90px;top:0"><span class="h" style="left:0.00px;top:87.0px;transform:scaleX(1.0449)">Initial </span><span class="h" style="left:35.88px;top:87.0px;transform:scaleX(1.0360)">Date </span><span class="h" style="left:65.94px;top:87.0px;transform:scaleX(0.9947)">Comments</span></div>
<div class="l" style="left:581.26px;top:0"><span class="n" style="left:0.00px;top:28.6px;transform:scaleX(0.9672)">Date </span><span class="n" style="left:32.00px;top:28.6px;transform:scaleX(0.9190)">Set </span><span class="n" style="left:55.39px;top:28.6px;transform:scaleX(1.1300)">/ </span><span class="n" style="left:63.88px;top:28.6px;transform:scaleX(0.9836)">Upcoming</span></div>
<div class="l" style="left:781.50px;top:0"><span class="n" style="left:0.00px;top:28.6px;transform:scaleX(1.0726)">Monitor </span><span class="n" style="left:53.47px;top:28.6px;transform:scaleX(0.9642)">closely </span><span class="n" style="left:98.12px;top:28.6px;transform:scaleX(0.9766)">(</span><span class="b" style="left:102.67px;top:30.0px;transform:scaleX(1.0117)">bold </span><span class="b" style="left:131.41px;top:30.0px;transform:scaleX(0.9800)">= </span><span class="b" style="left:141.41px;top:30.0px;transform:scaleX(0.9124)"><u>ASAP</u></span><span class="n" style="left:171.83px;top:28.6px;transform:scaleX(0.9766)">)</span></div>
<div class="l" style="left:1016.96px;top:0"><span class="n" style="left:0.00px;top:28.6px;transform:scaleX(1.0726)">Monitor </span><span class="n" style="left:53.47px;top:28.6px;transform:scaleX(0.9490)">casually</span></div>
</body></html>
